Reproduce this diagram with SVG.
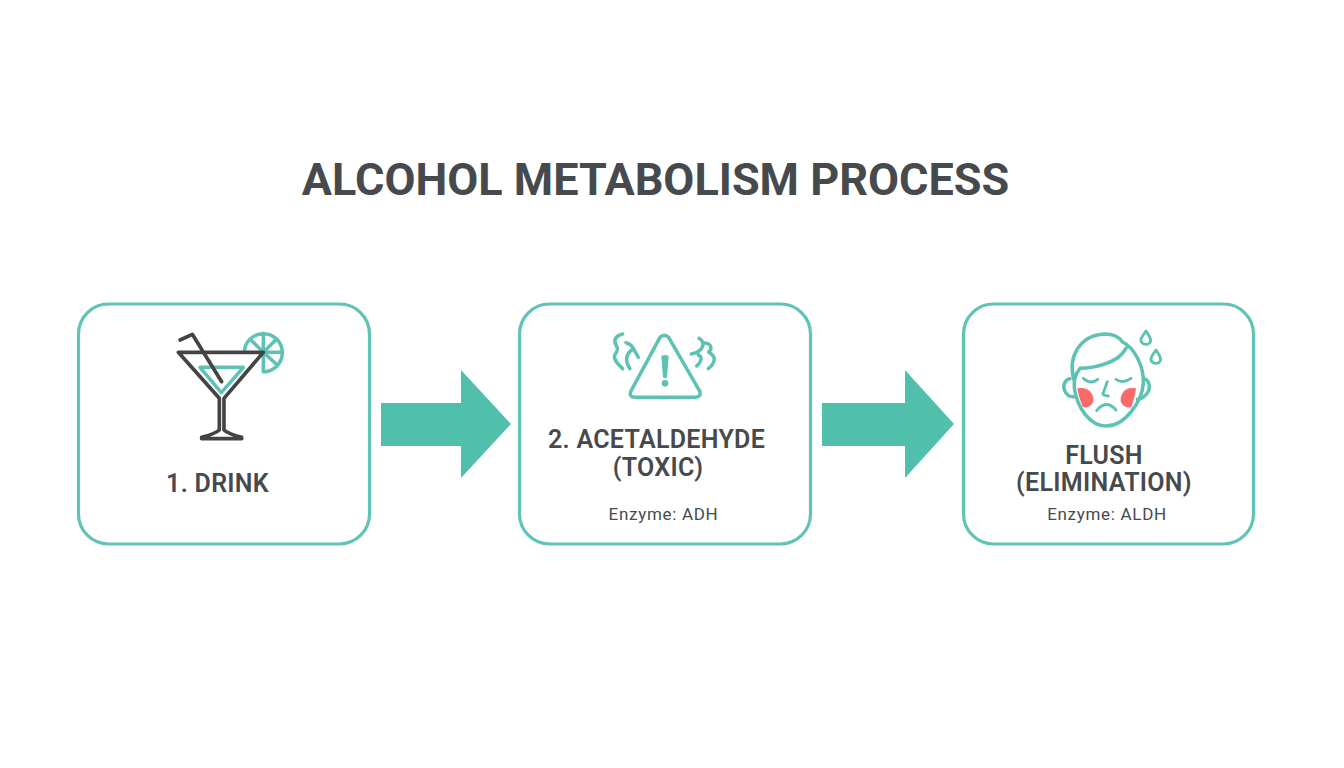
<svg xmlns="http://www.w3.org/2000/svg" width="1344" height="768" viewBox="0 0 1344 768">
<style>
.card{fill:#fff;stroke:#5fc3b5;stroke-width:3.2}
.arrow{fill:#50c0ad}
.t{font-family:Roboto,"Liberation Sans",sans-serif;fill:#464a4d;text-anchor:middle}
.h{font-size:45px;font-weight:700}
.l{font-size:25px;font-weight:600;letter-spacing:.3px}
.s{font-size:17px;font-weight:400;letter-spacing:.7px}
.ink{fill:none;stroke:#444;stroke-width:11;stroke-linecap:round;stroke-linejoin:round}
.teal{fill:none;stroke:#5cc2b2;stroke-width:10.500;stroke-linecap:round;stroke-linejoin:round}
.thin{stroke-width:8.500}
.cheek{fill:#fb6a68}
</style>
<rect width="1344" height="768" fill="#fff"/>
<text id="title" class="t h" x="655.500" y="195">ALCOHOL METABOLISM PROCESS</text>
<g id="connectors">
<polygon class="arrow" points="381,403 461,403 461,370 511,424 461,478 461,446 381,446"/>
<polygon class="arrow" points="822,403 905,403 905,370 954,424 905,478 905,446 822,446"/>
</g>
<g id="node-drink">
<rect class="card" x="78.500" y="304" width="291" height="240" rx="30"/>
<g transform="translate(150 320) scale(.3333)">
<path class="teal" d="M283 97A57 57 0 1 1 340 155L340 40M340 97L398 97M340 97L380 57M340 97L300 57M340 97L382 135"/>
<path class="teal" d="M150 142L280 142L214 218Z"/>
<path class="ink" d="M85 97L340 97L222 235L222 330Q235 342 275 352L275 356L155 356L155 352Q195 342 208 330L208 235L85 97Z"/>
<path class="ink" d="M90 60L127 43L215 185"/>
</g>
<text class="t l" x="217.500" y="492">1. DRINK</text>
</g>
<g id="node-acetaldehyde">
<rect class="card" x="519.500" y="304" width="291" height="240" rx="30"/>
<g transform="translate(600 320) scale(.3333)">
<path class="teal" d="M180 52Q193 40 206 52L300 215Q303 232 285 232L105 232Q87 232 92 215Z" stroke-width="11"/>
<path d="M184 108Q195 102 206 108L201 172Q195 178 189 172Z" fill="#5cc2b2"/>
<circle cx="195" cy="190" r="10" fill="#5cc2b2"/>
<path class="teal" d="M68 42C50 45 38 60 48 75C58 90 48 98 44 105C40 118 52 130 68 146M78 68C98 72 100 88 115 112M98 88C80 100 72 120 90 146"/>
<path class="teal" d="M297 55C310 62 312 75 305 85C298 95 288 100 274 102M295 105C308 110 305 125 290 138M310 68C335 70 338 85 326 96C340 105 348 115 340 128C335 138 330 142 325 146"/>
</g>
<text class="t l" x="656.500" y="448">2. ACETALDEHYDE</text>
<text class="t l" x="658" y="476">(TOXIC)</text>
<text class="t s" x="663.500" y="520">Enzyme: ADH</text>
</g>
<g id="node-flush">
<rect class="card" x="963.500" y="304" width="290" height="240" rx="30"/>
<g transform="translate(1050 320) scale(.3333)">
<path class="cheek" d="M82 205Q112 200 126 222Q136 245 122 256Q105 268 97 258Q86 232 82 205Z"/>
<path class="cheek" d="M258 205Q228 200 216 222Q206 245 220 256Q237 268 245 258Q255 232 258 205Z"/>
<path class="teal" d="M72 180C52 110 90 45 165 42C190 42 208 52 218 66C255 85 282 140 280 190C276 245 225 318 168 318C120 318 82 265 73 205C71 185 73 165 90 145C130 145 205 130 228 85"/>
<path class="teal" d="M60 176C42 180 38 200 44 212C50 226 62 232 74 230M282 176C296 180 302 198 296 212C290 226 276 238 262 238"/>
<path class="teal thin" d="M100 175Q122 195 143 178M198 178Q220 192 243 175M172 185L160 218Q154 226 175 228M140 272Q168 236 198 270"/>
<path class="teal thin" d="M288 33C276 50 268 60 276 68C284 76 296 74 301 66C305 58 298 48 288 33ZM318 90C306 107 298 117 306 125C314 133 326 131 331 123C335 115 328 105 318 90Z"/>
</g>
<text class="t l" x="1104" y="464">FLUSH</text>
<text class="t l" x="1104" y="491">(ELIMINATION)</text>
<text class="t s" x="1107" y="520">Enzyme: ALDH</text>
</g>
</svg>
